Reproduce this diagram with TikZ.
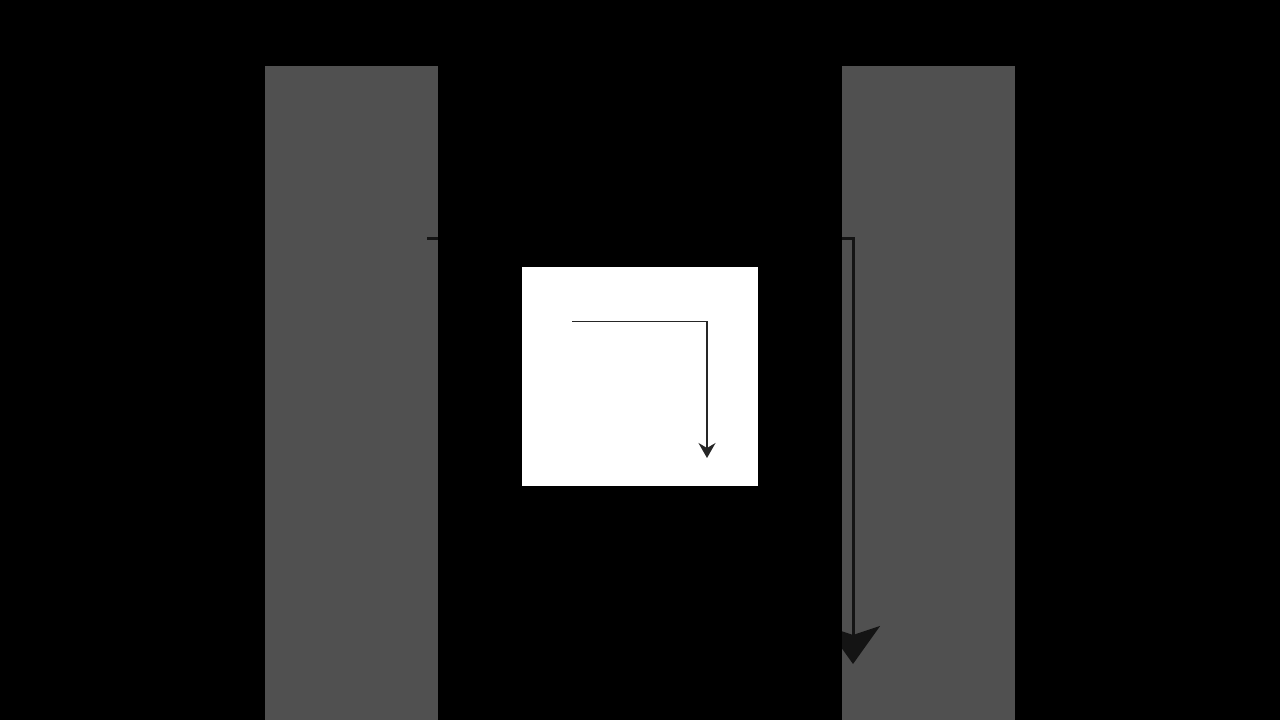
\documentclass[tikz,border=0pt]{standalone}
\usetikzlibrary{arrows.meta}
\definecolor{bandgray}{RGB}{80,80,80}
\definecolor{linedark}{RGB}{20,20,20}
\begin{document}
\begin{tikzpicture}[x=1pt,y=-1pt,
  bigarrow/.style={draw=linedark,line width=3pt,-{Stealth[length=38pt,width=54pt,inset=9pt]}},
  smallarrow/.style={draw=black!85,line width=1.6pt,-{Stealth[length=15pt,width=17pt,inset=5pt]}}]
  \useasboundingbox (0,0) rectangle (1280,720);
  \fill[black] (0,0) rectangle (1280,720);
  \fill[bandgray] (265,66) rectangle (1015,720);
  % large arrow partly hidden by the black band
  \coordinate (bs) at (427,238);
  \coordinate (bc) at (853,238);
  \coordinate (be) at (853,664);
  \draw[bigarrow] (bs) -- (bc) -- (be);
  \fill[black] (438,0) rectangle (842,720);
  % white box
  \fill[white] (522,267) rectangle (758,486);
  \coordinate (ss) at (572,321.5);
  \coordinate (sc) at (707,321.5);
  \coordinate (se) at (707,458);
  \draw[smallarrow] (ss) -- (sc) -- (se);
\end{tikzpicture}
\end{document}
